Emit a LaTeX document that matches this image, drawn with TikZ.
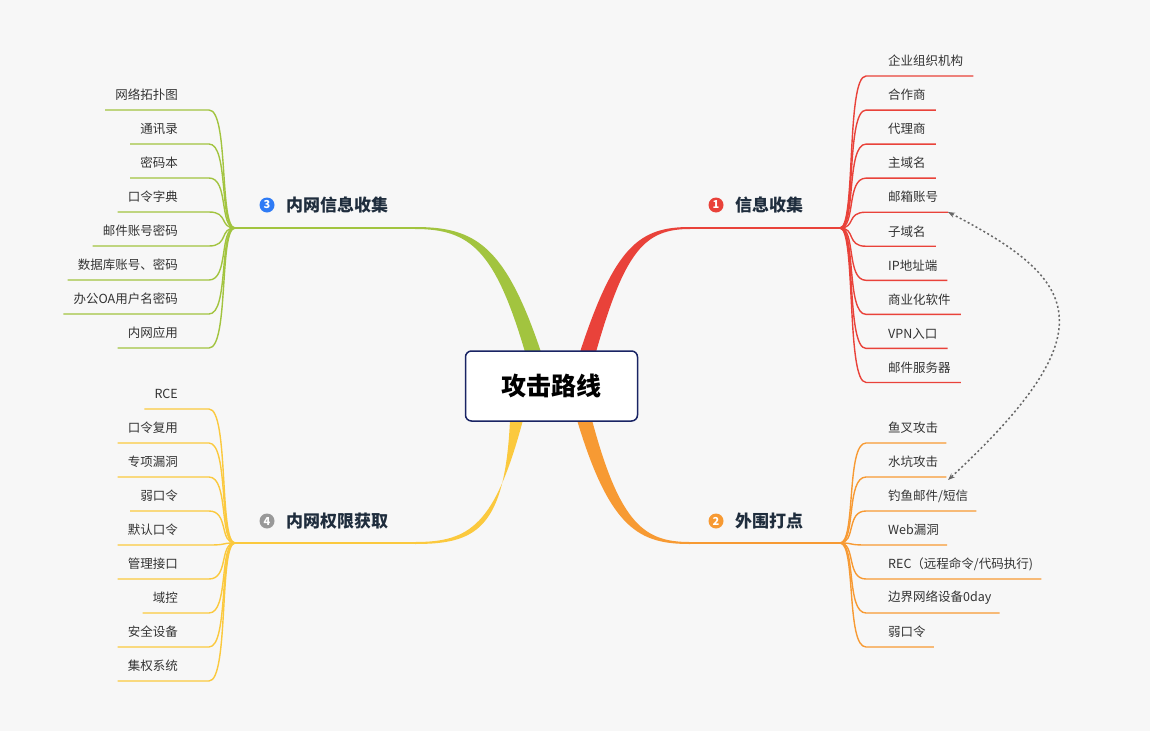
\documentclass[tikz,border=0pt]{standalone}
\usepackage{fontspec}
\setmainfont{Noto Sans CJK SC}
\usetikzlibrary{arrows.meta,calc}
\definecolor{cr}{HTML}{E9423A}
\definecolor{co}{HTML}{F79A33}
\definecolor{cg}{HTML}{A2C43F}
\definecolor{cy}{HTML}{FBC93E}
\definecolor{ctx}{HTML}{333333}
\definecolor{ctt}{HTML}{1F2D3D}
\definecolor{cb}{HTML}{2F7BF5}
\definecolor{cgr}{HTML}{999999}
\begin{document}
\begin{tikzpicture}[x=1pt,y=-1pt,
  leaf/.style={font=\fontsize{12.5}{14}\selectfont,text=ctx,inner sep=0pt},
  ttl/.style={font=\bfseries\fontsize{17}{20}\selectfont,text=ctt,inner sep=0pt,anchor=west},
  fan/.style={line width=1.4pt},
  num/.style={circle,inner sep=0pt,minimum size=15pt,text=white,font=\bfseries\fontsize{11}{12}\selectfont}]
\fill[white!97!black] (0,0) rectangle (1150,731);
\useasboundingbox (0,0) rectangle (1150,731);
% main branches (tapered)
\fill[cr] (580,352) .. controls (615,245) and (640,227) .. (690,227) -- (690,229) .. controls (645,229) and (625,250) .. (596,352) -- cycle;
\fill[co] (592,420) .. controls (620,525) and (645,542) .. (690,542) -- (690,544) .. controls (640,544) and (610,530) .. (577,420) -- cycle;
\fill[cg] (525,352) .. controls (495,250) and (470,229) .. (415,229) -- (415,227) .. controls (475,227) and (505,245) .. (541,352) -- cycle;
\fill[cy] (523,420) .. controls (495,525) and (470,542) .. (415,542) -- (415,544) .. controls (475,544) and (505,530) .. (510,420) -- cycle;
\coordinate (h1) at (840,228);
\coordinate (h2) at (840,543);
\coordinate (h3) at (235,228);
\coordinate (h4) at (235,543);
\draw[cr,line width=2pt] (690,228) -- (h1);
\draw[co,line width=2pt] (690,543) -- (h2);
\draw[cg,line width=2pt] (415,228) -- (h3);
\draw[cy,line width=2pt] (415,543) -- (h4);
% center
\node[draw=ctt!80!blue,line width=1.5pt,fill=white,rounded corners=6pt,minimum width=172pt,minimum height=70pt,font=\bfseries\fontsize{25}{28}\selectfont,text=black] (c) at (551.5,386) {攻击路线};
% titles
\node[num,fill=cr] (n1) at (716,205) {1};
\node[ttl] (t1) at (735,205) {信息收集};
\node[num,fill=co] (n2) at (716,521) {2};
\node[ttl] (t2) at (735,521) {外围打点};
\node[num,fill=cb] (n3) at (267,205) {3};
\node[ttl] (t3) at (286,205) {内网信息收集};
\node[num,fill=cgr] (n4) at (267,521) {4};
\node[ttl] (t4) at (286,521) {内网权限获取};
% right leaves
\foreach \t [count=\i] in {企业组织机构,合作商,代理商,主域名,邮箱账号,子域名,IP地址端,商业化软件,VPN入口,邮件服务器}{
  \pgfmathsetmacro\yy{61+34.05*(\i-1)}
  \node[leaf,anchor=west] (a\i) at (888,\yy) {\t};
  \draw[cr,fan] (h1) .. controls (856,228) and (846,\yy+15) .. (866,\yy+15) -- ([xshift=10pt]a\i.east |- 866,\yy+15);
}
\foreach \t [count=\i] in {鱼叉攻击,水坑攻击,钓鱼邮件/短信,Web漏洞,REC（远程命令/代码执行),边界网络设备0day,弱口令}{
  \pgfmathsetmacro\yy{428+34*(\i-1)}
  \node[leaf,anchor=west] (b\i) at (888,\yy) {\t};
  \draw[co,fan] (h2) .. controls (856,543) and (846,\yy+15) .. (866,\yy+15) -- ([xshift=8pt]b\i.east |- 866,\yy+15);
}
\foreach \t [count=\i] in {网络拓扑图,通讯录,密码本,口令字典,邮件账号密码,数据库账号、密码,办公OA用户名密码,内网应用}{
  \pgfmathsetmacro\yy{95+34*(\i-1)}
  \node[leaf,anchor=east] (g\i) at (178,\yy) {\t};
  \draw[cg,fan] (h3) .. controls (219,228) and (229,\yy+15) .. (209,\yy+15) -- ([xshift=-10pt]g\i.west |- 209,\yy+15);
}
\foreach \t [count=\i] in {RCE,口令复用,专项漏洞,弱口令,默认口令,管理接口,域控,安全设备,集权系统}{
  \pgfmathsetmacro\yy{394+34*(\i-1)}
  \node[leaf,anchor=east] (y\i) at (178,\yy) {\t};
  \draw[cy,fan] (h4) .. controls (219,543) and (229,\yy+15) .. (209,\yy+15) -- ([xshift=-10pt]y\i.west |- 209,\yy+15);
}
% relation
\coordinate (ra) at (948,212);
\coordinate (rb) at (948,480);
\draw[gray!80!black,line width=1.5pt,dash pattern=on 2pt off 2.5pt,{Stealth[length=7pt]}-{Stealth[length=7pt]}] (ra) .. controls (1080,280) and (1110,330) .. (rb);
\end{tikzpicture}
\end{document}
